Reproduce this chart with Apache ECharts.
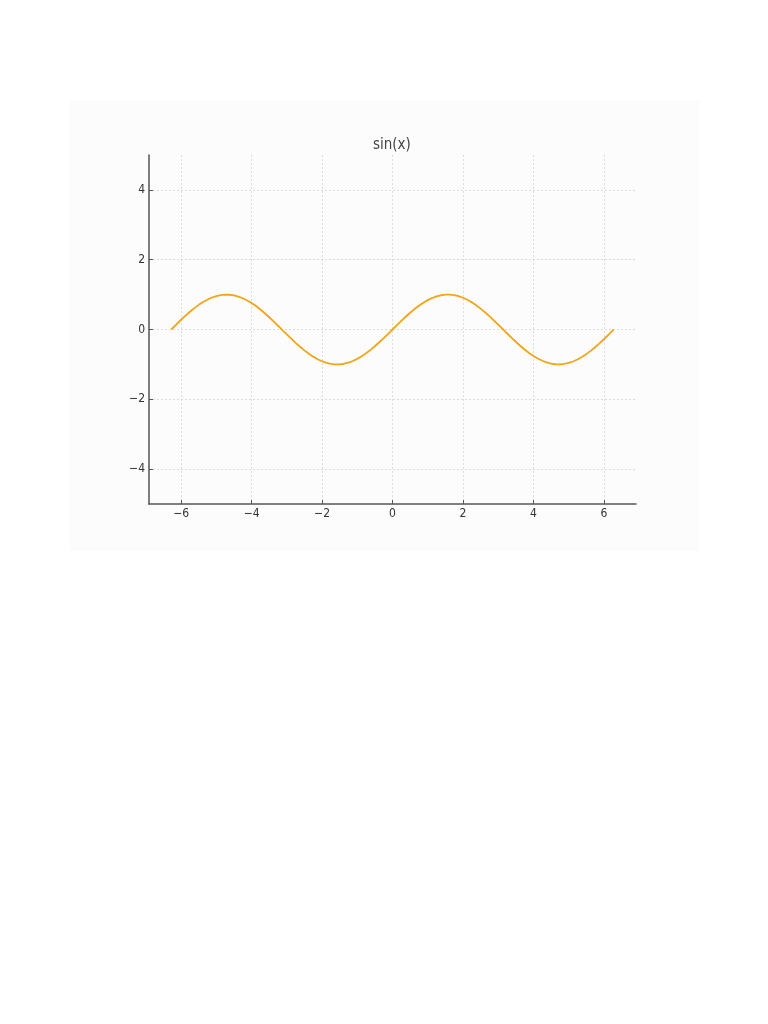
<!DOCTYPE html>
<html>
<head>
<meta charset="utf-8">
<script src="https://cdn.jsdelivr.net/npm/echarts@6/dist/echarts.min.js"></script>
<style>
html,body{margin:0;padding:0;background:#ffffff;}
#chart{width:768px;height:1024px;}
</style>
</head>
<body>
<div id="chart"></div>
<script>
const titleText = 'sin(x)';
const xValues = [-6.28,-6.25,-6.125,-6.0,-5.875,-5.75,-5.625,-5.5,-5.375,-5.25,-5.125,-5.0,-4.875,-4.75,-4.625,-4.5,-4.375,-4.25,-4.125,-4.0,-3.875,-3.75,-3.625,-3.5,-3.375,-3.25,-3.125,-3.0,-2.875,-2.75,-2.625,-2.5,-2.375,-2.25,-2.125,-2.0,-1.875,-1.75,-1.625,-1.5,-1.375,-1.25,-1.125,-1.0,-0.875,-0.75,-0.625,-0.5,-0.375,-0.25,-0.125,0,0.125,0.25,0.375,0.5,0.625,0.75,0.875,1.0,1.125,1.25,1.375,1.5,1.625,1.75,1.875,2.0,2.125,2.25,2.375,2.5,2.625,2.75,2.875,3.0,3.125,3.25,3.375,3.5,3.625,3.75,3.875,4.0,4.125,4.25,4.375,4.5,4.625,4.75,4.875,5.0,5.125,5.25,5.375,5.5,5.625,5.75,5.875,6.0,6.125,6.25,6.28];
const yValues = [0,0.033,0.157,0.279,0.399,0.510,0.613,0.706,0.789,0.859,0.917,0.959,0.986,0.999,0.996,0.978,0.944,0.895,0.832,0.757,0.672,0.572,0.465,0.351,0.231,0.108,-0.017,-0.141,-0.264,-0.382,-0.493,-0.598,-0.694,-0.778,-0.851,-0.909,-0.954,-0.984,-0.999,-0.997,-0.981,-0.949,-0.902,-0.841,-0.768,-0.682,-0.585,-0.479,-0.366,-0.247,-0.125,0,0.125,0.247,0.366,0.479,0.585,0.682,0.768,0.841,0.902,0.949,0.981,0.997,0.999,0.984,0.954,0.909,0.851,0.778,0.694,0.598,0.493,0.382,0.264,0.141,0.017,-0.108,-0.231,-0.351,-0.465,-0.572,-0.672,-0.757,-0.832,-0.895,-0.944,-0.978,-0.996,-0.999,-0.986,-0.959,-0.917,-0.859,-0.789,-0.706,-0.613,-0.510,-0.399,-0.279,-0.157,-0.033,0];
const xTicks = [-6,-4,-2,0,2,4,6];
const yTicks = [-4,-2,0,2,4];
const xRange = [-6.912, 6.912];
const yRange = [-5, 5];

const chart = echarts.init(document.getElementById('chart'), null, {renderer:'canvas'});
const fmt = v => (v < 0 ? '\u2212' + Math.abs(v) : String(v));
const FONT = "'DejaVu Sans Condensed', 'DejaVu Sans', sans-serif";
const axisCommon = {
  axisLine:{show:true, onZero:false, lineStyle:{color:'#555', width:1.5}},
  axisTick:{show:true, inside:true, length:4, lineStyle:{color:'#555', width:1}},
  axisLabel:{color:'#333', fontSize:12, fontFamily:FONT, formatter: fmt, margin:4},
  splitLine:{show:true, lineStyle:{color:'#d4d4d4', width:0.8, type:[2,2]}}
};
chart.setOption({
  backgroundColor:'#ffffff',
  animation:false,
  graphic:[{type:'rect', shape:{x:70,y:100,width:629,height:451}, style:{fill:'#fcfcfc'}, z:-10, silent:true}],
  title:{text:titleText, left:368, top:133,
    textStyle:{fontFamily:FONT, fontSize:15, fontWeight:'normal', color:'#444'}},
  grid:{left:149, right:132, top:155, bottom:520, containLabel:false},
  xAxis:Object.assign({type:'value', min:xRange[0], max:xRange[1]}, axisCommon, {
    axisTick:Object.assign({}, axisCommon.axisTick, {customValues:xTicks}),
    axisLabel:Object.assign({}, axisCommon.axisLabel, {customValues:xTicks})
  }),
  yAxis:Object.assign({type:'value', min:yRange[0], max:yRange[1]}, axisCommon, {
    axisTick:Object.assign({}, axisCommon.axisTick, {customValues:yTicks}),
    axisLabel:Object.assign({}, axisCommon.axisLabel, {customValues:yTicks})
  }),
  series:[{
    type:'line', showSymbol:false, smooth:false, clip:false,
    data:xValues.map((x,i)=>[x,yValues[i]]),
    lineStyle:{color:'#f2a516', width:1.8}
  }]
});
</script>
</body>
</html>
